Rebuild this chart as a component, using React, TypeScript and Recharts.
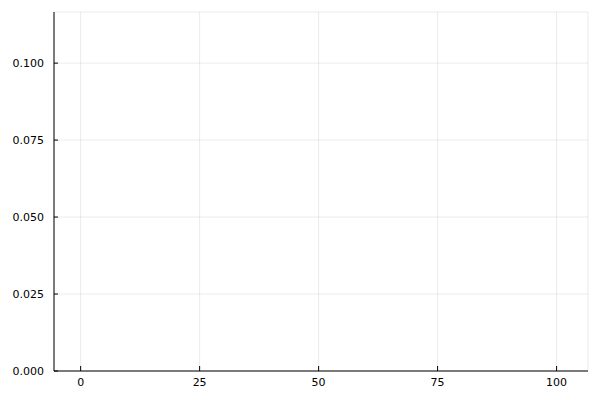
import { ScatterChart, Scatter, XAxis, YAxis, CartesianGrid } from "recharts";

// the reference plot holds no visible series, only the frame
const points: { x: number; y: number }[] = [];
const xTicks = [0, 25, 50, 75, 100];
const yTicks = [0, 0.025, 0.05, 0.075, 0.1];
const xDomain = [-5.6, 106.6];
const yDomain = [0, 0.1166];

const tickStyle = { fill: "#000", fontSize: 11, fontFamily: "DejaVu Sans" };

export default function App() {
  return (
    <div style={{ position: "absolute", left: 0, top: 0, background: "#fff" }}>
      <ScatterChart
        width={600}
        height={400}
        margin={{ top: 12, right: 12, bottom: 0, left: 0 }}
      >
        <CartesianGrid stroke="#000" strokeOpacity={0.08} strokeWidth={1} />
        <XAxis
          type="number"
          dataKey="x"
          domain={xDomain}
          ticks={xTicks}
          allowDataOverflow
          height={29}
          tickSize={-5}
          tickMargin={12}
          tick={tickStyle}
          stroke="#000"
          tickLine={{ stroke: "#000" }}
          axisLine={{ stroke: "#000", strokeWidth: 1 }}
        />
        <YAxis
          type="number"
          dataKey="y"
          domain={yDomain}
          ticks={yTicks}
          allowDataOverflow
          width={54}
          tickSize={-4}
          tickMargin={14}
          tick={tickStyle}
          tickFormatter={(v: number) => v.toFixed(3)}
          stroke="#000"
          tickLine={{ stroke: "#000" }}
          axisLine={{ stroke: "#000", strokeWidth: 1 }}
        />
        <Scatter data={points} fill="#009afa" isAnimationActive={false} />
      </ScatterChart>
    </div>
  );
}
